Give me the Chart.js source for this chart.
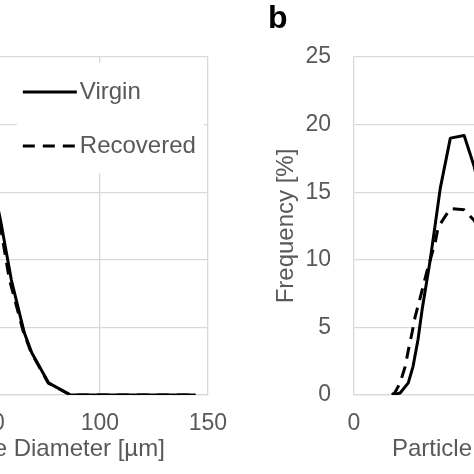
<!DOCTYPE html>
<html>
<head>
<meta charset="utf-8">
<script src="https://cdn.jsdelivr.net/npm/chart.js@4.4.1/dist/chart.umd.min.js"></script>
<style>
    html, body { margin: 0; padding: 0; background: #fff; }
    #frame { position: relative; width: 474px; height: 474px; overflow: hidden; background: #fff; }
    #chartA { position: absolute; left: -156px; top: 0; }
    #chartB { position: absolute; left: 250px; top: 0; }
    #panelB { position: absolute; left: 268px; top: 1px; font: bold 32px "Liberation Sans", Arial, sans-serif; line-height: 32px; color: #000; }
</style>
</head>
<body>
<div id="frame">
    <canvas id="chartA" width="398" height="474"></canvas>
    <canvas id="chartB" width="452" height="474"></canvas>
    <div id="panelB">b</div>
</div>
<script>
// Series names
const seriesLabels = ["Virgin", "Recovered"];

// Panel a (left, only its right part is in the picture)
const aVirginX = [50, 54, 59, 65, 68.5, 76.2, 86.4, 144.4];
const aVirginY = [16, 12.9, 8.5, 4.6, 3.1, 0.9, 0, 0];
const aRecoveredX = [50, 54, 58, 64.5, 68, 76, 86.4, 144.4];
const aRecoveredY = [15.6, 12.4, 8.6, 4.7, 3.2, 0.9, 0, 0];

// Panel b (right, only its left part is in the picture)
const bVirginX = [12.5, 14.7, 17.3, 18.8, 20.4, 21.7, 24.3, 27.5, 30.7, 35.1, 38.3, 41.5];
const bVirginY = [0, 0.15, 0.9, 2.1, 4.1, 6.3, 10.0, 15.3, 19.0, 19.2, 16.9, 13.5];
const bRecoveredX = [12.1, 13.1, 14.7, 16.3, 17.3, 18.5, 19.5, 21.1, 23.3, 25.9, 26.8, 30.7, 35.1, 38.3, 41.5];
const bRecoveredY = [0, 0.2, 0.9, 2.1, 3.3, 4.6, 5.8, 7.2, 9.2, 11.3, 12.4, 13.8, 13.7, 12.9, 11.8];

// Axis ranges
const yMax = 25;
const yStep = 5;
const xStep = 50;
const aXMax = 150;
const bXMax = 100;

const FONT = "'Liberation Sans', Arial, sans-serif";
const TEXT_GREY = "#595959";
const GRID_GREY = "#d9d9d9";

function toPoints(xs, ys) {
    return xs.map((x, i) => ({ x: x, y: ys[i] }));
}

function makeDatasets(virginX, virginY, recoveredX, recoveredY) {
    return [
        {
            label: seriesLabels[0],
            data: toPoints(virginX, virginY),
            borderColor: "#000",
            borderWidth: 3,
            borderJoinStyle: "round",
        },
        {
            label: seriesLabels[1],
            data: toPoints(recoveredX, recoveredY),
            borderColor: "#000",
            borderWidth: 3,
            borderDash: [12, 8],
            borderJoinStyle: "round",
        },
    ];
}

// Legend in a white box inside the plot area (drawn over the grid)
const boxLegend = {
    id: "boxLegend",
    beforeDatasetsDraw(chart, args, opts) {
        if (!opts.show) return;
        const { ctx, chartArea } = chart;
        const left = chartArea.right - opts.right - opts.width;
        const top = chartArea.top + opts.top;

        ctx.save();
        ctx.fillStyle = "#fff";
        ctx.fillRect(left, top, opts.width, opts.height);
        ctx.font = "24px " + FONT;
        ctx.textBaseline = "middle";
        ctx.textAlign = "left";

        chart.data.datasets.forEach((ds, i) => {
            const y = top + opts.firstRow + i * opts.rowGap;
            ctx.strokeStyle = ds.borderColor;
            ctx.lineWidth = ds.borderWidth;
            ctx.setLineDash(ds.borderDash || []);
            ctx.beginPath();
            ctx.moveTo(left + 6, y);
            ctx.lineTo(left + 60, y);
            ctx.stroke();
            ctx.fillStyle = TEXT_GREY;
            ctx.fillText(ds.label, left + 63, y);
        });
        ctx.restore();
    },
};

function makeChart(canvasId, datasets, cfg) {
    const ctx = document.getElementById(canvasId).getContext("2d");

    return new Chart(ctx, {
        type: "line",
        data: { datasets: datasets },
        options: {
            responsive: false,
            animation: false,
            devicePixelRatio: 1,
            layout: { padding: { left: 0, right: 25, top: 57, bottom: 0 } },
            elements: {
                point: { radius: 0 },
                line: { tension: 0, fill: false },
            },
            plugins: {
                legend: { display: false },
                tooltip: { enabled: false },
                boxLegend: cfg.legend,
            },
            scales: {
                x: {
                    type: "linear",
                    min: 0,
                    max: cfg.xMax,
                    ticks: { stepSize: xStep, padding: 15, color: TEXT_GREY, font: { family: FONT, size: 23 } },
                    grid: { display: cfg.xGrid, color: GRID_GREY, lineWidth: 1.3, drawTicks: false },
                    border: { display: true, color: GRID_GREY, width: 1.3 },
                    title: {
                        display: true,
                        text: "Particle Diameter [µm]",
                        color: TEXT_GREY,
                        font: { family: FONT, size: 24 },
                        padding: { top: 0, bottom: 10 },
                    },
                    afterFit: (scale) => { scale.height = 79; },
                },
                y: {
                    min: 0,
                    max: yMax,
                    ticks: { stepSize: yStep, padding: 23, color: TEXT_GREY, font: { family: FONT, size: 23 } },
                    grid: { color: GRID_GREY, lineWidth: 1.3, drawTicks: false },
                    border: { display: true, color: GRID_GREY, width: 1.3 },
                    title: {
                        display: true,
                        text: "Frequency [%]",
                        color: TEXT_GREY,
                        font: { family: FONT, size: 24 },
                        padding: { top: 21.6, bottom: 0 },
                    },
                    afterFit: (scale) => { scale.width = cfg.yWidth; },
                },
            },
        },
        plugins: [boxLegend],
    });
}

makeChart("chartA", makeDatasets(aVirginX, aVirginY, aRecoveredX, aRecoveredY), {
    xMax: aXMax,
    xGrid: true,
    yWidth: 40,
    legend: { show: true, right: 4, top: 6, width: 187, height: 110, firstRow: 29, rowGap: 54 },
});

makeChart("chartB", makeDatasets(bVirginX, bVirginY, bRecoveredX, bRecoveredY), {
    xMax: bXMax,
    xGrid: false,
    yWidth: 104,
    legend: { show: false },
});
</script>
</body>
</html>
